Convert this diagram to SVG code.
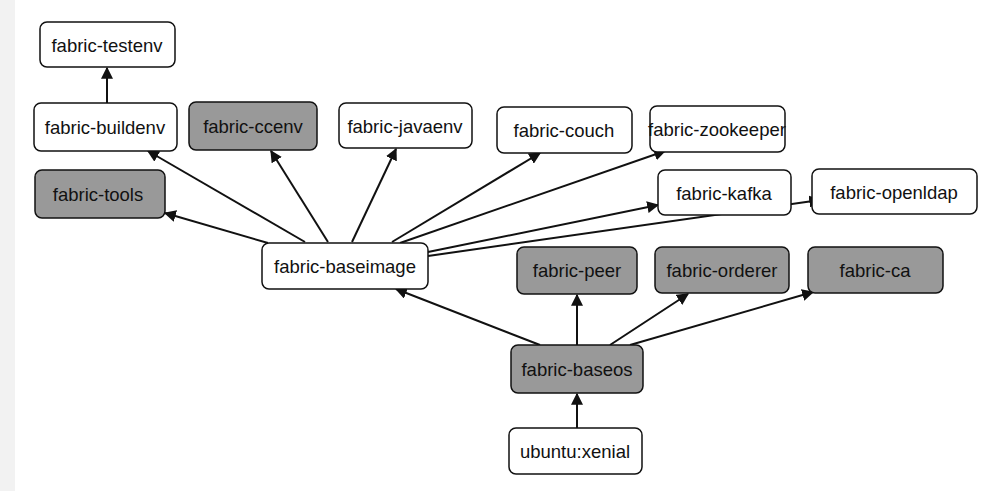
<svg xmlns="http://www.w3.org/2000/svg" width="1000" height="491" viewBox="0 0 1000 491">
<style>
.n rect{fill:#fff;stroke:#111;stroke-width:1.5}
.n.g rect{fill:#999}
.n text{font-family:"Liberation Sans",Arial,sans-serif;font-size:18.5px;fill:#111;text-anchor:middle;dominant-baseline:central}
#edges line{stroke:#111;stroke-width:2;marker-end:url(#a)}
</style>
<defs><marker id="a" viewBox="0 0 10 10" refX="9" refY="5" markerWidth="6" markerHeight="6" orient="auto"><path d="M0,0L10,5L0,10z" fill="#111"/></marker></defs>
<rect width="1000" height="491" fill="#fff"/>
<rect width="15" height="491" fill="#f2f2f2"/>
<g id="edges">
<line x1="107" y1="103" x2="107" y2="68"/>
<line x1="268" y1="243" x2="165" y2="213"/>
<line x1="305" y1="242" x2="148" y2="151"/>
<line x1="328" y1="242" x2="271" y2="151"/>
<line x1="352" y1="242" x2="396" y2="149"/>
<line x1="392" y1="242" x2="540" y2="153"/>
<line x1="400" y1="243" x2="665" y2="151"/>
<line x1="428" y1="252" x2="658" y2="205"/>
<line x1="428" y1="256" x2="820" y2="200"/>
<line x1="540" y1="345" x2="396" y2="289"/>
<line x1="577" y1="345" x2="577" y2="295"/>
<line x1="610" y1="345" x2="688" y2="294"/>
<line x1="630" y1="345" x2="813" y2="292"/>
<line x1="577" y1="428" x2="577" y2="394"/>
</g>
<g id="testenv" class="n"><rect x="40" y="22" width="135" height="45" rx="7"/><text x="107" y="45">fabric-testenv</text></g>
<g id="buildenv" class="n"><rect x="34" y="103" width="143" height="48" rx="7"/><text x="105" y="127">fabric-buildenv</text></g>
<g id="ccenv" class="n g"><rect x="189" y="102" width="128" height="48" rx="7"/><text x="253" y="126">fabric-ccenv</text></g>
<g id="javaenv" class="n"><rect x="339" y="103" width="133" height="45" rx="7"/><text x="405" y="126">fabric-javaenv</text></g>
<g id="couch" class="n"><rect x="497" y="107" width="135" height="46" rx="7"/><text x="564" y="130">fabric-couch</text></g>
<g id="zookeeper" class="n"><rect x="650" y="106" width="135" height="46" rx="7"/><text x="717" y="129">fabric-zookeeper</text></g>
<g id="tools" class="n g"><rect x="35" y="170" width="130" height="48" rx="7"/><text x="98" y="194">fabric-tools</text></g>
<g id="kafka" class="n"><rect x="658" y="170" width="133" height="45" rx="7"/><text x="724" y="193">fabric-kafka</text></g>
<g id="openldap" class="n"><rect x="812" y="169" width="165" height="45" rx="7"/><text x="894" y="192">fabric-openldap</text></g>
<g id="baseimage" class="n"><rect x="262" y="243" width="166" height="46" rx="7"/><text x="345" y="266">fabric-baseimage</text></g>
<g id="peer" class="n g"><rect x="517" y="247" width="120" height="47" rx="7"/><text x="577" y="270">fabric-peer</text></g>
<g id="orderer" class="n g"><rect x="655" y="247" width="134" height="46" rx="7"/><text x="722" y="270">fabric-orderer</text></g>
<g id="ca" class="n g"><rect x="808" y="247" width="135" height="46" rx="7"/><text x="875" y="270">fabric-ca</text></g>
<g id="baseos" class="n g"><rect x="511" y="345" width="132" height="48" rx="7"/><text x="577" y="369">fabric-baseos</text></g>
<g id="ubuntu" class="n"><rect x="509" y="428" width="133" height="46" rx="7"/><text x="575" y="451">ubuntu:xenial</text></g>
</svg>
